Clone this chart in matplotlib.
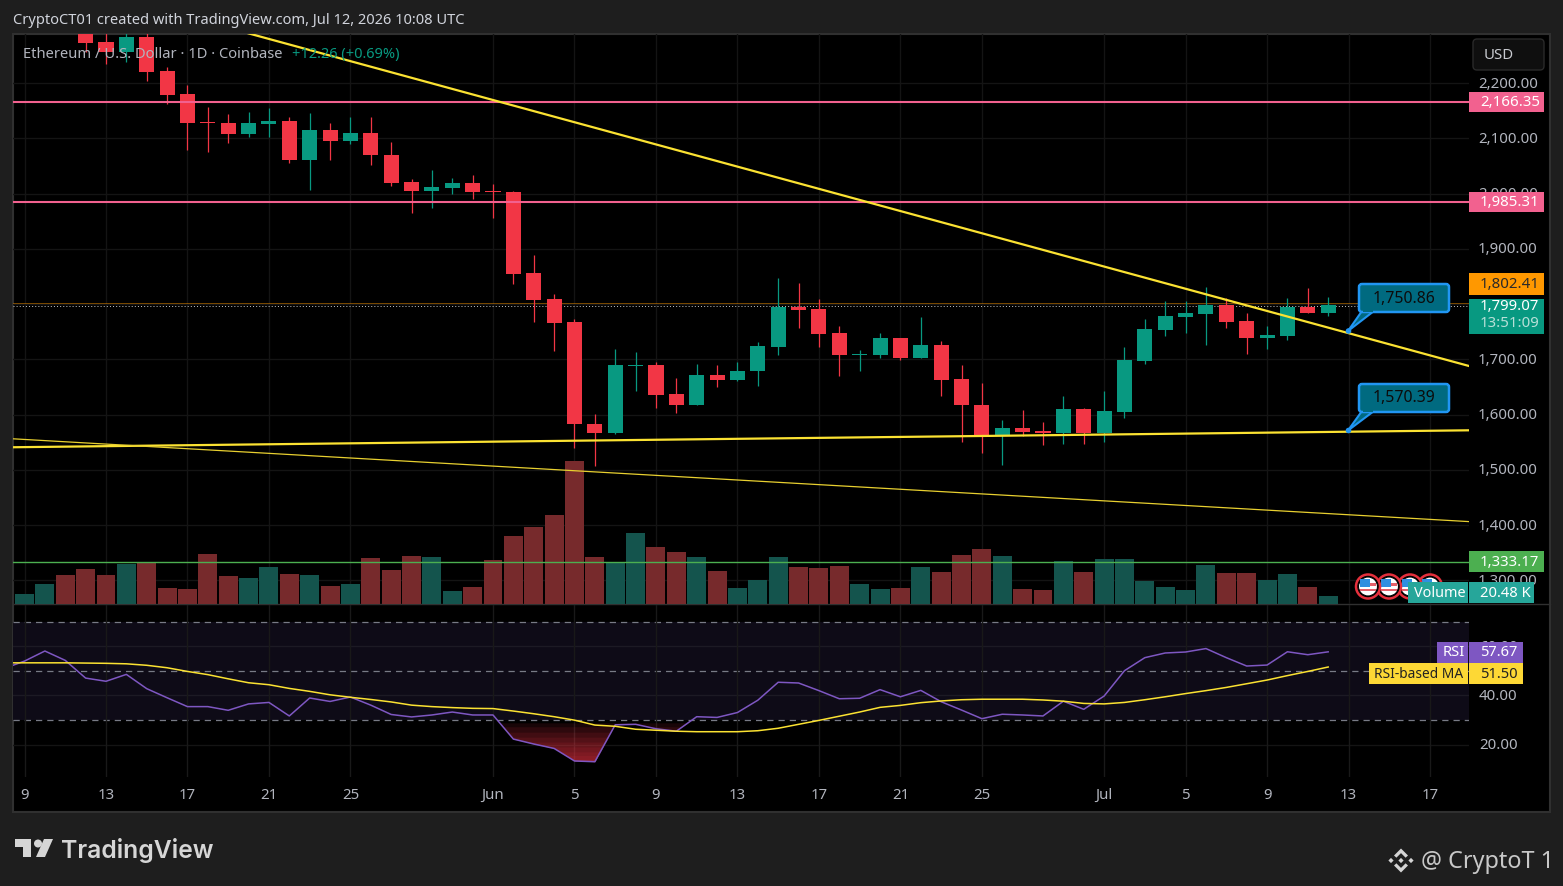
import matplotlib
matplotlib.use("Agg")
import matplotlib.pyplot as plt
from matplotlib.patches import Polygon, FancyBboxPatch, Circle, Rectangle
from matplotlib.transforms import blended_transform_factory

W, H = 1563, 887

# daily candles from May 12 on, day 0 is May 9
candle_days = list(range(3, 65))
opens = [2305, 2274, 2257, 2284, 2222, 2180, 2130, 2127, 2108, 2126, 2131, 2061, 2115, 2096, 2110, 2070, 2021, 2005, 2011, 2019,
         2003, 2003, 1856, 1809, 1768, 1583, 1567, 1688, 1690, 1637, 1618, 1672, 1663, 1678, 1723, 1795, 1791, 1748, 1708, 1708,
         1739, 1703, 1726, 1664, 1618, 1562, 1576, 1570, 1567, 1610, 1567, 1605, 1697, 1753, 1777, 1782, 1798, 1769, 1739, 1742,
         1795, 1784]
highs = [2323, 2290, 2296, 2296, 2229, 2197, 2157, 2144, 2148, 2155, 2139, 2146, 2128, 2139, 2139, 2093, 2026, 2043, 2028, 2034,
         2017, 2005, 1889, 1818, 1773, 1601, 1719, 1713, 1695, 1666, 1692, 1690, 1695, 1731, 1847, 1838, 1809, 1760, 1717, 1748,
         1739, 1777, 1733, 1690, 1657, 1590, 1608, 1587, 1634, 1612, 1643, 1722, 1773, 1806, 1806, 1831, 1811, 1784, 1760, 1811,
         1829, 1813]
lows = [2257, 2234, 2238, 2203, 2163, 2078, 2076, 2092, 2102, 2103, 2056, 2007, 2060, 2090, 2052, 2013, 1964, 1973, 2000, 1991,
        1955, 1837, 1768, 1715, 1540, 1506, 1564, 1643, 1612, 1602, 1617, 1650, 1661, 1652, 1708, 1757, 1723, 1669, 1678, 1703,
        1699, 1702, 1634, 1551, 1531, 1509, 1561, 1545, 1547, 1547, 1550, 1594, 1692, 1742, 1748, 1726, 1757, 1710, 1719, 1735,
        1784, 1778]
closes = [2273, 2257, 2284, 2221, 2179, 2128, 2128, 2108, 2127, 2131, 2061, 2115, 2096, 2110, 2069, 2020, 2005, 2012, 2019, 2002,
          2002, 1855, 1808, 1766, 1582, 1567, 1690, 1689, 1636, 1618, 1672, 1663, 1679, 1724, 1795, 1790, 1746, 1707, 1709, 1739,
          1703, 1726, 1663, 1618, 1562, 1576, 1568, 1567, 1610, 1567, 1606, 1699, 1755, 1778, 1784, 1798, 1768, 1739, 1744, 1795,
          1784, 1799.07]

# thousands, day 0 to 64
volume = [28, 54, 79, 96, 79, 110, 113, 43, 40, 138, 76, 71, 102, 82, 79, 48, 54, 127, 93, 132, 130, 34, 46, 121, 188, 214, 247, 398, 130,
          114, 197, 158, 144, 130, 90, 43, 65, 130, 102, 99, 104, 54, 40, 43, 102, 88, 135, 152, 132, 40, 37, 118, 88, 124, 124,
          62, 46, 37, 107, 85, 85, 65, 82, 46, 20.48]
vol_up = [1, 1, 0, 0, 0, 1, 0, 0, 0, 0, 0, 1, 1, 0, 1, 0, 1, 0, 0, 0, 1, 1, 0, 0, 0, 0, 0, 0, 0,
          1, 1, 0, 0, 1, 0, 1, 1, 1, 0, 0, 0, 1, 1, 0, 1, 0, 0, 0, 1, 0, 0, 1, 0, 1, 1,
          1, 1, 1, 1, 0, 0, 1, 1, 0, 1]

# day -1 to 64
rsi = [50.9, 53.9, 58.0, 54.2, 47.0, 45.7, 48.5, 42.7, 39.0, 35.4, 35.4, 33.9, 36.5, 37.1, 31.6, 38.9, 37.5, 39.3, 36.0, 32.2, 31.2, 32.0,
       33.2, 32.0, 32.0, 22.2, 20.2, 18.4, 13.3, 13.0, 28.0, 28.2, 26.4, 25.4, 31.3, 31.0, 33.0, 38.0, 45.3, 45.0, 41.9, 38.6, 38.8,
       42.3, 39.4, 42.0, 37.4, 34.0, 30.5, 32.3, 32.0, 31.6, 37.6, 34.3, 39.7, 50.0, 55.3, 57.2, 57.6, 59.0, 55.3, 51.9, 52.3, 57.7,
       56.5, 57.67]
rsi_ma = [53.2, 53.2, 53.2, 53.2, 53.1, 53.0, 52.8, 52.2, 51.2, 49.7, 48.4, 46.7, 45.1, 44.3, 42.8, 41.6, 40.2, 39.2, 38.3, 37.3, 36.0, 35.4,
          35.0, 34.7, 34.6, 33.6, 32.5, 31.3, 29.9, 27.9, 27.4, 26.2, 25.8, 25.4, 25.2, 25.2, 25.2, 25.6, 26.6, 28.2, 29.8, 31.5, 33.2,
          35.1, 35.9, 37.0, 37.7, 38.2, 38.4, 38.4, 38.4, 38.1, 37.6, 36.7, 36.5, 37.1, 38.2, 39.4, 40.7, 41.9, 43.2, 44.7, 46.2, 48.0,
          49.7, 51.5]
rsi_days = list(range(-1, 65))

# trend lines as (day, day), (price, price)
upper_days, upper_prices = [11, 71], [2290, 1687]
lower_days, lower_prices = [-1, 71], [1540.6, 1571.5]
thin_days, thin_prices = [-1, 71], [1557, 1406]

level_pink = [2166.35, 1985.31]
level_green = 1333.17
level_orange = 1802.41
last_close = 1799.07
call_up, call_down = 1750.86, 1570.39

price_ticks = [2200, 2100, 2000, 1900, 1800, 1700, 1600, 1500, 1400, 1300]
rsi_ticks = [60, 40, 20]
x_tick_days = [0, 4, 8, 12, 16, 23, 27, 31, 35, 39, 43, 47, 53, 57, 61, 65, 69]
x_tick_labels = ["9", "13", "17", "21", "25", "Jun", "5", "9", "13", "17", "21", "25", "Jul", "5", "9", "13", "17"]

BG = "#1e1e1e"
RED = "#f23645"
GREEN = "#089981"
PINK = "#f2618f"
YELLOW = "#fbe232"
GRID = "#141414"
TEXT = "#b2b5be"
FONT = "Noto Sans"
LABEL = 10.8

plt.rcParams["font.family"] = [FONT, "DejaVu Sans"]
fig = plt.figure(figsize=(W / 100, H / 100), dpi=100, facecolor=BG)


def make_axes(left, top, right, bottom, zorder):
    # one px lower than measured, the crop rows read one short
    ax = fig.add_axes([left / W, 1 - (bottom + 1) / H, (right - left) / W, (bottom - top) / H], zorder=zorder)
    ax.set_xticks([])
    ax.set_yticks([])
    for s in ax.spines.values():
        s.set_visible(False)
    return ax


# pixel axes, one under the panes and one over them
under = make_axes(0, -1, W, H - 1, 0)
under.set_xlim(0, W)
under.set_ylim(H - 1, -1)
under.set_facecolor(BG)
under.add_patch(Rectangle((12.5, 33.5), 1537.5, 778, fc="black", ec="#303030", lw=1.5))
under.plot([13, 1550], [603.5, 603.5], color="#303030", lw=1)

LEFT, RIGHT = 13, 1469
DAY_PX = 20.37
X0 = 24.5
xlim = ((LEFT - X0) / DAY_PX, (RIGHT - X0) / DAY_PX)

# volume sits under the candles in the same pane
vax = make_axes(LEFT, 34, RIGHT, 603.5, 1)
vax.set_facecolor("none")
vax.set_xlim(*xlim)
vax.set_ylim(0, 569.5 * 2.8)

ax = make_axes(LEFT, 34, RIGHT, 603.5, 2)
ax.set_facecolor("none")
ax.set_xlim(*xlim)
P_TOP = 2350.44 - 1.8103 * 34
P_BOT = 2350.44 - 1.8103 * 603.5
ax.set_ylim(P_BOT, P_TOP)

rax = make_axes(LEFT, 604.5, RIGHT, 777, 1)
rax.set_facecolor("none")
rax.set_xlim(*xlim)
rax.set_ylim(20 - (777 - 744.5) / 2.46, 20 + (744.5 - 604.5) / 2.46)

# grid
for d in x_tick_days:
    vax.axvline(d, color=GRID, lw=1, zorder=0)
    rax.axvline(d, color="#191919", lw=1, zorder=3)
for p in price_ticks:
    vax.axhline((p - P_BOT) / (P_TOP - P_BOT) * 569.5 * 2.8, color=GRID, lw=1, zorder=0)

# volume bars
vol_days = list(range(len(volume)))
vol_colors = ["#14544d" if u else "#772a2c" for u in vol_up]
vax.bar(vol_days, volume, width=0.93, color=vol_colors, lw=0, zorder=1)

# levels and trend lines
for lvl in level_pink:
    ax.axhline(lvl, color=PINK, lw=1.5, zorder=4)
ax.axhline(level_green, color="#4caf50", lw=1, zorder=4)
ax.axhline(level_orange, color="#ff9800", lw=0.6, alpha=0.55, zorder=1)
ax.axhline(last_close - 2, color="#c8c8c8", lw=0.7, ls=(0, (1, 2.2)), zorder=1)
ax.plot(upper_days, upper_prices, color=YELLOW, lw=1.6, zorder=4)
ax.plot(lower_days, lower_prices, color=YELLOW, lw=1.6, zorder=4)
ax.plot(thin_days, thin_prices, color="#e8d030", lw=0.9, zorder=4)

# candles
for d, o, h, l, c in zip(candle_days, opens, highs, lows, closes):
    col = GREEN if c >= o else RED
    ax.vlines(d, l, h, color=col, lw=0.9, zorder=2)
    body = max(abs(c - o), 2.2)
    ax.bar(d, body, bottom=min(o, c), width=0.74, color=col, lw=0, zorder=3)

# rsi pane
rax.axhspan(30, 70, color="#0e0b17", lw=0, zorder=0)
for g in rsi_ticks:
    rax.axhline(g, color="#1c1a24" if g != 20 else GRID, lw=1, zorder=1)
for lvl in (70, 50, 30):
    rax.axhline(lvl, color="#787b86", lw=0.9, ls=(0, (5, 4)), zorder=2)
for lev in (28.8, 27, 25, 23, 21, 19, 17, 15.5, 14):
    rax.fill_between(rsi_days, rsi, lev, where=[r < lev for r in rsi], interpolate=True,
                     color="#f23645", alpha=0.1, lw=0, zorder=3)
rax.plot(rsi_days, rsi, color="#7e57c2", lw=1.1, zorder=5)
rax.plot(rsi_days, rsi_ma, color=YELLOW, lw=1.1, zorder=5)

# overlay for labels
top = make_axes(0, -1, W, H - 1, 5)
top.set_facecolor("none")
top.set_xlim(0, W)
top.set_ylim(H - 1, -1)
price_tr = blended_transform_factory(top.transData, ax.transData)
rsi_tr = blended_transform_factory(top.transData, rax.transData)
day_tr = blended_transform_factory(rax.transData, top.transData)


def tag(x0, x1, yc, h, color, zorder=6):
    top.add_patch(Rectangle((x0, yc - h / 2), x1 - x0, h, fc=color, ec="none", zorder=zorder))


top.text(13, 19.5, "CryptoCT01 created with TradingView.com, Jul 12, 2026 10:08 UTC", color="#d1d4dc",
         fontsize=10.55, va="center", ha="left", fontweight="medium")
top.text(23, 53.5, "Ethereum / U.S. Dollar · 1D · Coinbase", color="#b2b5be", fontsize=10.6, va="center", ha="left")
top.text(292, 53.5, "+12.26 (+0.69%)", color=GREEN, fontsize=10.5, va="center", ha="left")

for p in price_ticks:
    top.text(1478, p, f"{p:,.2f}", color=TEXT, fontsize=LABEL, va="center", ha="left", transform=price_tr, zorder=5)
for g in rsi_ticks:
    top.text(1479, g, f"{g:.2f}", color=TEXT, fontsize=LABEL, va="center", ha="left", transform=rsi_tr, zorder=5)
for d, lab in zip(x_tick_days, x_tick_labels):
    top.text(d, 794.5, lab, color=TEXT, fontsize=LABEL, va="center", ha="center", transform=day_tr)

top.add_patch(FancyBboxPatch((1473, 39), 71, 31, boxstyle="round,pad=0,rounding_size=4", fc="#0f0f0f", ec="#2a2a2a", lw=1))
top.text(1484, 54, "USD", color="#c8cad0", fontsize=LABEL, va="center", ha="left")

# price tags, px positions match the reference's label column
for lvl, yc in zip(level_pink, (101.5, 201.5)):
    tag(1469, 1544, yc, 20, "#f2618f")
    top.text(1480, yc, f"{lvl:,.2f}", color="white", fontsize=LABEL, va="center", ha="left", zorder=7)
tag(1469, 1544, 283.5, 22, "#ff9800")
top.text(1480, 283.5, f"{level_orange:,.2f}", color="#2a2a2a", fontsize=LABEL, va="center", ha="left", zorder=7)
tag(1469, 1544, 316.5, 35, GREEN)
top.text(1480, 305, f"{last_close:,.2f}", color="white", fontsize=LABEL, va="center", ha="left", zorder=7)
top.text(1480, 322.5, "13:51:09", color="#b8e0d8", fontsize=LABEL, va="center", ha="left", zorder=7)
tag(1469, 1544, 561.5, 21, "#4caf50")
top.text(1480, 561.5, f"{level_green:,.2f}", color="white", fontsize=LABEL, va="center", ha="left", zorder=7)

# earnings style flags above the volume pane
for fx in (1430, 1410, 1389, 1368):
    top.add_patch(Circle((fx, 586.5), 12, fc="black", ec="#e5303c", lw=1.8, zorder=5))
    top.add_patch(Circle((fx, 586.5), 9.5, fc="white", ec="black", lw=0.8, zorder=5))
    top.add_patch(Rectangle((fx - 8, 589), 16, 2, fc="#e5606a", ec="none", zorder=5))
    top.add_patch(Rectangle((fx - 8, 579), 10, 8, fc="#2f8fe0", ec="none", zorder=5))
    top.add_patch(Rectangle((fx + 2, 583), 6, 3, fc="#e5606a", ec="none", zorder=5))

tag(1408, 1468, 592.5, 21, "#26a69a")
top.text(1414, 592.5, "Volume", color="white", fontsize=LABEL - 0.4, va="center", ha="left", zorder=7)
tag(1469, 1534, 592.5, 21, "#26a69a")
top.text(1480, 592.5, "20.48 K", color="white", fontsize=LABEL - 0.2, va="center", ha="left", zorder=7)

tag(1437, 1468, 652, 21, "#7e57c2")
top.text(1443, 652, "RSI", color="white", fontsize=LABEL - 0.2, va="center", ha="left", zorder=7)
tag(1469, 1523, 652, 21, "#7e57c2")
top.text(1480, 652, f"{rsi[-1]:.2f}", color="white", fontsize=LABEL - 0.2, va="center", ha="left", zorder=7)
tag(1369, 1468, 673, 21, "#fdd835")
top.text(1374, 673, "RSI-based MA", color="#222222", fontsize=9.9, va="center", ha="left", zorder=7)
tag(1469, 1523, 673, 21, "#fdd835")
top.text(1480, 673, f"{rsi_ma[-1]:.2f}", color="#222222", fontsize=LABEL - 0.2, va="center", ha="left", zorder=7)

# callouts on the two trend lines
for val, by, my in ((call_up, 284, 331), (call_down, 384, 430.5)):
    top.add_patch(Polygon([(1348, my), (1374, by + 27), (1362, by + 27)], fc="#006a80", ec="#2196f3", lw=1.5, zorder=8))
    top.add_patch(FancyBboxPatch((1359, by), 90, 28, boxstyle="round,pad=0,rounding_size=3", fc="#006a80", ec="#2196f3", lw=1.8, zorder=8))
    top.add_patch(Rectangle((1363, by + 24), 10, 4, fc="#006a80", ec="none", zorder=9))
    top.add_patch(Circle((1348.5, my), 2.8, fc="#2196f3", ec="none", zorder=9))
    top.text(1404, by + 13.5, f"{val:,.2f}", color="#0c0c0c", fontsize=11.4, va="center", ha="center", zorder=10)

# TradingView logo
logo = "#d6d6d6"
top.add_patch(Polygon([(15, 839), (30.5, 839), (30.5, 857), (23, 857), (23, 847), (15, 847)], fc=logo, ec="none"))
top.add_patch(Circle((38, 843.5), 4, fc=logo, ec="none"))
top.add_patch(Polygon([(44, 839), (53, 839), (45, 857), (36, 857)], fc=logo, ec="none"))
top.text(61, 849.5, "TradingView", color=logo, fontsize=17.8, fontweight="semibold", va="center", ha="left", family="Inter")

# Binance mark and signature
bx, by = 1401, 860.5
mark = "#d4d4d4"
for dx, dy in ((-10, 0), (10, 0), (0, 0)):
    top.add_patch(Polygon([(bx + dx - 2.6, by + dy), (bx + dx, by + dy - 2.6), (bx + dx + 2.6, by + dy), (bx + dx, by + dy + 2.6)],
                          fc=mark, ec="none"))
top.add_patch(Polygon([(bx, by - 12), (bx + 7, by - 5), (bx + 4.6, by - 2.8), (bx, by - 7.4), (bx - 4.6, by - 2.8), (bx - 7, by - 5)], fc=mark, ec="none"))
top.add_patch(Polygon([(bx, by + 12), (bx + 7, by + 5), (bx + 4.6, by + 2.8), (bx, by + 7.4), (bx - 4.6, by + 2.8), (bx - 7, by + 5)], fc=mark, ec="none"))
top.text(1421, 861, "@ CryptoT 1", color="#c8c8c8", fontsize=16.8, va="center", ha="left")

fig.savefig("out.png", dpi=100, facecolor=BG)
